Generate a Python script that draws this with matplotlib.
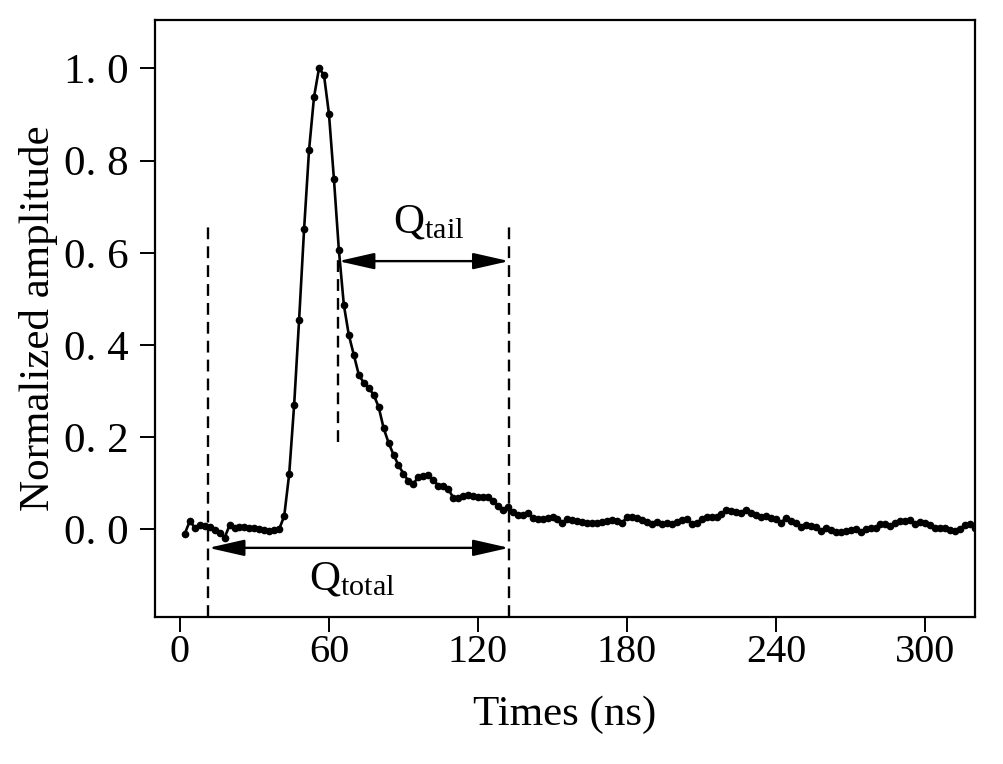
import numpy as np
import matplotlib
matplotlib.use("Agg")
import matplotlib.pyplot as plt

plt.rcParams['font.family'] = ['Liberation Serif', 'DejaVu Serif']
plt.rcParams['mathtext.fontset'] = 'custom'
plt.rcParams['mathtext.rm'] = 'Liberation Serif'

# sample times (ns), 2 ns step
waktu = np.arange(2, 322, 2)

# normalized amplitude
amp_awal = [-0.009, 0.018, 0.004, 0.009, 0.007, 0.006, -0.001, -0.007, -0.018, 0.009,
            0.004, 0.005, 0.005, 0.004, 0.003, 0.001, -0.001, -0.003, -0.001, 0.001]
amp_puncak = [0.029, 0.12, 0.27, 0.455, 0.651, 0.823, 0.938, 1.0, 0.986, 0.902,
              0.761, 0.606, 0.487, 0.422, 0.379, 0.336, 0.318, 0.307, 0.292, 0.266,
              0.220, 0.188, 0.162, 0.139, 0.121, 0.105, 0.099, 0.114, 0.115, 0.117,
              0.108, 0.095, 0.094, 0.088]
amp_ekor = [0.069, 0.069, 0.072, 0.074, 0.072, 0.070, 0.070, 0.070, 0.061, 0.050,
            0.042, 0.048, 0.038, 0.031]
amp_dasar1 = [0.031, 0.035, 0.025, 0.023, 0.022, 0.025, 0.027, 0.023, 0.015, 0.023,
              0.020, 0.018, 0.016, 0.013, 0.014, 0.013, 0.016, 0.018, 0.020, 0.018,
              0.014, 0.027, 0.027, 0.025, 0.020, 0.016, 0.012, 0.016]
amp_dasar2 = [0.012, 0.013, 0.012, 0.016, 0.020, 0.022, 0.012, 0.013, 0.022, 0.027,
              0.026, 0.028, 0.033, 0.043, 0.041, 0.038, 0.036, 0.043, 0.035, 0.031,
              0.026, 0.030, 0.025, 0.022, 0.015, 0.025, 0.019, 0.015]
amp_dasar3 = [0.006, 0.010, 0.007, 0.006, -0.003, 0.002, -0.001, -0.006, -0.005, -0.003,
              -0.001, 0.000, -0.005, 0.000, 0.002, 0.004, 0.011, 0.011, 0.007, 0.014,
              0.018, 0.018, 0.020, 0.011, 0.016, 0.013, 0.009, 0.002, 0.004, 0.004,
              -0.001, -0.003, 0.000, 0.009, 0.011, 0.004]
amplitudo = np.array(amp_awal + amp_puncak + amp_ekor + amp_dasar1 + amp_dasar2 + amp_dasar3)

# integration window limits (ns)
t_mulai = 11.5
t_ekor = 63.8
t_akhir = 132.5

xticks = [0, 60, 120, 180, 240, 300]
yticks = [0.0, 0.2, 0.4, 0.6, 0.8, 1.0]

fig = plt.figure(figsize=(10.04, 7.64), dpi=100)
ax = fig.add_axes([0.1544, 0.1924, 0.8166, 0.7814])

ax.plot(waktu, amplitudo, color='k', lw=1.9, marker='o', markersize=4.5)

garis = dict(color='k', lw=1.7, linestyle=(0, (5, 3)))
ax.plot([t_mulai, t_mulai], [-0.19, 0.67], **garis)
ax.plot([t_akhir, t_akhir], [-0.19, 0.67], **garis)
ax.plot([t_ekor, t_ekor], [0.19, 0.6], **garis)

panah = dict(arrowstyle='<|-|>,head_length=1.1,head_width=0.25', color='k',
             lw=1.7, shrinkA=0, shrinkB=0, mutation_scale=20)
ax.annotate('', xy=(t_akhir, -0.04), xytext=(t_mulai, -0.04), arrowprops=panah)
ax.annotate('', xy=(t_akhir, 0.582), xytext=(t_ekor, 0.582), arrowprops=panah)

ax.text(100, 0.667, r'$\mathrm{Q_{tail}}$', fontsize=31, ha='center', va='center')
ax.text(69.5, -0.108, r'$\mathrm{Q_{total}}$', fontsize=31, ha='center', va='center')

ax.set_xlim(-10, 320)
ax.set_ylim(-0.19, 1.105)
ax.set_xticks(xticks)
ax.set_xticklabels([str(v) for v in xticks], fontsize=29)
ax.set_yticks(yticks)
ax.set_yticklabels(['{:.1f}'.format(v).replace('.', '. ') for v in yticks], fontsize=31)
ax.tick_params(direction='out', length=11, width=1.4)
ax.tick_params(axis='x', pad=1)
ax.tick_params(axis='y', pad=8)
ax.set_xlabel('Times (ns)', fontsize=31, labelpad=18)
ax.set_ylabel('Normalized amplitude', fontsize=31, labelpad=4)
for s in ax.spines.values():
    s.set_linewidth(1.6)

fig.savefig('out.png', dpi=100)
